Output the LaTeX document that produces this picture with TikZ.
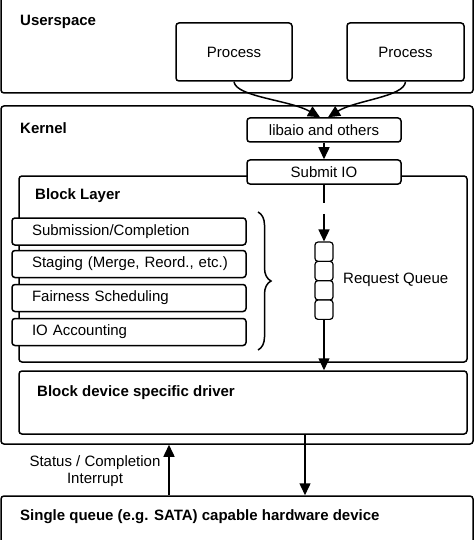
\documentclass[tikz,border=0pt]{standalone}
\usepackage{fontspec}
\setmainfont{Liberation Sans}
\usetikzlibrary{arrows.meta,decorations.pathreplacing}

\begin{document}
\begin{tikzpicture}[x=1pt,y=-1pt,
	every node/.style={font=\fontsize{15}{17}\selectfont},
	layer/.style={draw, fill=white, line width=1.5pt, rounded corners=3pt, inner sep=0pt},
	stage/.style={draw, fill=white, line width=1.5pt, rounded corners=3pt, inner xsep=20pt, inner ysep=0pt, text width=194pt, align=left, minimum height=27pt},
	cell/.style={draw, fill=white, line width=1.2pt, rounded corners=3pt, minimum width=18pt, minimum height=19.3pt, inner sep=0pt},
	title/.style={font=\fontsize{15}{17}\selectfont\bfseries, anchor=west, inner sep=0pt},
	flow/.style={-{Triangle[length=12pt,width=11pt]}, line width=1.5pt}]
	\useasboundingbox (0,0) rectangle (474,540);

	% layers
	\node[layer, minimum width=472pt, minimum height=113pt] at (237,36.5) (user) {};
	\node[layer, minimum width=472pt, minimum height=338pt] at (237,275) (kernel) {};
	\node[layer, minimum width=448pt, minimum height=186pt] at (243,269) (block) {};
	\node[layer, minimum width=448pt, minimum height=63pt] at (243,402.5) (driver) {};
	\node[layer, minimum width=472pt, minimum height=60pt] at (237,526) (hw) {};

	\node[title] at (20,22) (userT) {Userspace};
	\node[title] at (20,128) (kernelT) {Kernel};
	\node[title] at (35,196) (blockT) {Block Layer};
	\node[title] at (37,393) (driverT) {Block device specific driver};
	\node[title] at (20,517) (hwT) {Single queue (e.g. SATA) capable hardware device};

	% userspace and kernel entry
	\node[layer, minimum width=116pt, minimum height=58pt] at (234,52) (proc1) {Process};
	\node[layer, minimum width=117pt, minimum height=58pt] at (405.5,52) (proc2) {Process};
	\node[layer, minimum width=154pt, minimum height=24pt] at (324,130) (libaio) {libaio and others};
	\node[layer, minimum width=154pt, minimum height=24pt] at (324,172) (submit) {Submit IO};

	% block layer stages
	\node[stage] at (129,231.5) (subm) {Submission/Completion};
	\node[stage] at (129,264) (staging) {\mbox{Staging (Merge, Reord., etc.)}};
	\node[stage] at (129,298) (fair) {Fairness Scheduling};
	\node[stage] at (129,332) (acct) {IO Accounting};
	\coordinate (bTop) at (258,212);
	\coordinate (bBot) at (258,350);
	\draw[line width=1.5pt, decorate, decoration={brace, amplitude=13pt}] (bTop) -- (bBot);

	% request queue
	\foreach \i/\y in {1/251.7, 2/271, 3/290.3, 4/309.7}
		\node[cell] at (324,\y) (q\i) {};
	\node[anchor=west, inner sep=0pt] at (343,280) (queueT) {Request Queue};

	% flow
	\draw[flow] (proc1.south) .. controls (236,97) and (290,100) .. ([xshift=-4pt]libaio.north);
	\draw[flow] (proc2.south) .. controls (404,97) and (356,100) .. ([xshift=4pt]libaio.north);
	\draw[flow] (libaio) -- (submit);
	\draw[flow, dash pattern=on 18pt off 11pt on 80pt] (submit) -- (q1);
	\draw[flow] (q4) -- (driver.north -| q4);
	\coordinate (downX) at (305,0);
	\coordinate (upX) at (169,0);
	\draw[flow] (driver.south -| downX) -- (hw.north -| downX);
	\draw[flow] (hw.north -| upX) -- (kernel.south -| upX);
	\node[align=center, inner sep=0pt] at (95,471) (statusT) {Status / Completion\\Interrupt};
\end{tikzpicture}
\end{document}
